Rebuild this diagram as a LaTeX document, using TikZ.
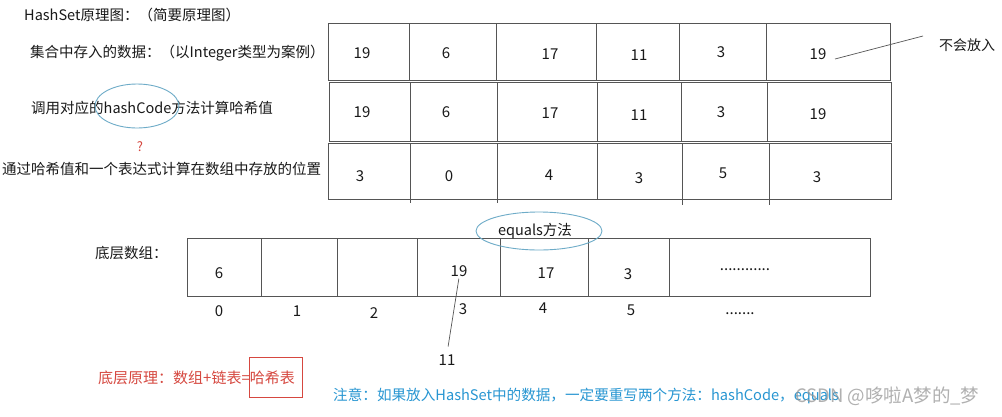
\documentclass[tikz,border=0pt]{standalone}
\usepackage{fontspec}
\setmainfont{Noto Sans CJK SC}
\usetikzlibrary{shapes.geometric}
\definecolor{lineg}{RGB}{85,85,85}
\definecolor{txtc}{RGB}{25,25,25}
\definecolor{redc}{RGB}{214,72,64}
\definecolor{bluec}{RGB}{40,150,210}
\definecolor{ellc}{RGB}{110,172,200}
\definecolor{wmc}{RGB}{150,150,150}
\begin{document}
\begin{tikzpicture}[x=1pt,y=-1pt,
  txt/.style={font=\fontsize{14.5}{17}\selectfont, text=txtc, inner sep=0pt},
  num/.style={font=\fontsize{15}{18}\selectfont, text=txtc, inner sep=1pt},
  grid/.style={draw=lineg, line width=0.9pt},
  thin/.style={draw=lineg, line width=0.7pt},
  oval/.style={ellipse, draw=ellc, line width=0.9pt, inner sep=0pt}]
\useasboundingbox[fill=white] (0,0) rectangle (1002,416);

% ---------- top three rows ----------
\draw[grid] (328,23) rectangle (890,80);
\foreach \x in {409,496,596,679,766} \draw[grid] (\x,23) -- (\x,80);
\draw[grid] (329,82) rectangle (891,141);
\foreach \x in {410,497,597,681,767} \draw[grid] (\x,82) -- (\x,141);
\draw[grid] (328,143) rectangle (891,199);
\draw[grid] (410,143) -- (410,203);
\draw[grid] (497,143) -- (497,203);
\draw[grid] (597,143) -- (597,199);
\draw[grid] (682,143) -- (682,205);
\draw[grid] (769,143) -- (769,205);

% row 1 values
\node[num] (r1a) at (362,53) {19};
\node[num] (r1b) at (446,53) {6};
\node[num] (r1c) at (550,54) {17};
\node[num] (r1d) at (639,55) {11};
\node[num] (r1e) at (721,52) {3};
\node[num] (r1f) at (818,54) {19};
% row 2 values
\node[num] (r2a) at (362,112) {19};
\node[num] (r2b) at (446,112) {6};
\node[num] (r2c) at (550,113) {17};
\node[num] (r2d) at (639,115) {11};
\node[num] (r2e) at (721,112) {3};
\node[num] (r2f) at (818,114) {19};
% row 3 values
\node[num] (r3a) at (360,176) {3};
\node[num] (r3b) at (449,176) {0};
\node[num] (r3c) at (549,175) {4};
\node[num] (r3d) at (639,178) {3};
\node[num] (r3e) at (723,173) {5};
\node[num] (r3f) at (817,177) {3};

% not inserted
\node[txt, font=\fontsize{14}{17}\selectfont] (buhui) at (967,45) {不会放入};
\coordinate (nfA) at (835,59);
\coordinate (nfB) at (923,36);
\draw[thin] (nfA) -- (nfB);

% ---------- left labels ----------
\node[txt, anchor=west] (title) at (24,15) {HashSet原理图：（简要原理图）};
\node[txt, anchor=west] (lab1) at (30,53) {集合中存入的数据：（以Integer类型为案例）};
\node[txt, anchor=west] (lab2) at (31,108) {调用对应的hashCode方法计算哈希值};
\node[oval, minimum width=84pt, minimum height=44pt] (hcell) at (137,106) {};
\node[txt, text=redc, font=\fontsize{13}{15}\selectfont] (qm) at (140,147) {?};
\node[txt, anchor=west] (lab3) at (2,169) {通过哈希值和一个表达式计算在数组中存放的位置};

% ---------- bottom array ----------
\node[txt, anchor=west] (lab4) at (95,253) {底层数组：};
\draw[grid] (187,238) rectangle (870,296);
\foreach \x in {261,337,417,500,588,669} \draw[grid] (\x,238) -- (\x,296);

\node[num] (b0) at (219,273) {6};
\node[num] (b3) at (459,271) {19};
\node[num] (b4) at (546,273) {17};
\node[num] (b5) at (628,274) {3};
\node[num] (bdots) at (745,270) {............};

\node[num] (i0) at (219,311) {0};
\node[num] (i1) at (297,311) {1};
\node[num] (i2) at (374,313) {2};
\node[num] (i3) at (463,309) {3};
\node[num] (i4) at (543,308) {4};
\node[num] (i5) at (631,310) {5};
\node[num] (idots) at (740,314) {.......};

\node[num] (b11) at (447,360) {11};
\draw[thin, shorten <=1pt, shorten >=7pt] (b3.south) -- (b11.north);

\node[txt] (eqtxt) at (535,231) {equals方法};
\node[oval, minimum width=126pt, minimum height=38pt] (eqell) at (539,231) {};

% ---------- bottom notes ----------
\node[txt, text=redc, anchor=west, font=\fontsize{15}{18}\selectfont] (principle) at (98,378) {底层原理：数组+链表=哈希表};
\draw[draw=redc, line width=0.7pt] (249,357) rectangle (302,397);
\node[txt, text=bluec, anchor=west, font=\fontsize{14.6}{17}\selectfont] (note) at (333,396) {注意：如果放入HashSet中的数据，一定要重写两个方法：hashCode，equals};
\node[txt, text=wmc, anchor=west, font=\fontsize{18.5}{21}\selectfont, opacity=0.75] (wm) at (795,396) {CSDN @哆啦A梦的\_梦};
\end{tikzpicture}
\end{document}
